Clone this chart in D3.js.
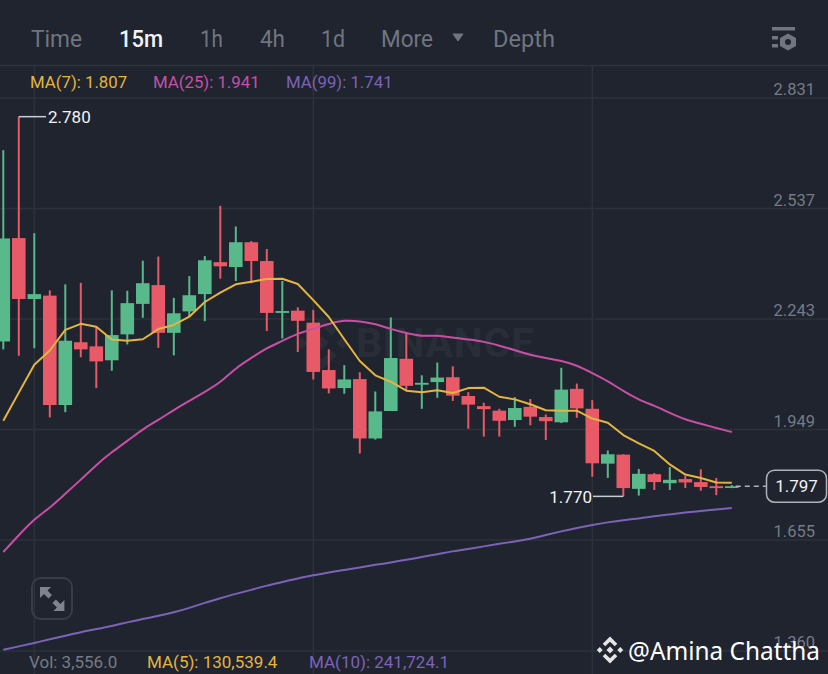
<!DOCTYPE html>
<html>
<head>
<meta charset="utf-8">
<script src="https://cdn.jsdelivr.net/npm/d3@7"></script>
<style>
  html, body { margin: 0; padding: 0; background: #1f242e; }
  svg { display: block; font-family: Roboto, sans-serif; }
</style>
</head>
<body>
<svg id="chart" width="828" height="674"></svg>
<script>
// Candles
const opens = [2.182,2.457,2.295,2.304,2.013,2.180,2.169,2.132,2.201,2.282,2.332,2.205,2.262,2.308,2.393,2.380,2.446,2.396,2.258,2.264,2.232,2.106,2.058,2.082,1.924,1.997,2.136,2.067,2.074,2.087,2.037,2.010,1.998,1.973,2.008,1.981,1.967,2.056,2.003,1.857,1.881,1.790,1.829,1.805,1.816,1.808,1.797,1.795];
const highs = [2.691,2.780,2.470,2.318,2.334,2.338,2.221,2.318,2.317,2.397,2.408,2.298,2.356,2.409,2.543,2.488,2.449,2.428,2.343,2.273,2.266,2.161,2.119,2.100,2.049,2.246,2.204,2.092,2.126,2.116,2.047,2.019,2.003,2.034,2.029,1.988,2.112,2.070,2.026,1.892,1.882,1.843,1.832,1.848,1.825,1.842,1.819,1.800];
const lows = [2.161,2.144,2.164,1.980,1.994,2.140,2.058,2.104,2.174,2.245,2.165,2.145,2.248,2.236,2.349,2.343,2.337,2.210,2.190,2.154,2.081,2.044,2.043,1.884,1.921,1.997,2.051,2.003,2.032,2.024,1.950,1.929,1.929,1.955,1.959,1.920,1.965,1.979,1.822,1.819,1.770,1.772,1.787,1.787,1.792,1.785,1.773,1.792];
const closes = [2.456,2.295,2.308,2.013,2.184,2.161,2.129,2.199,2.284,2.337,2.205,2.257,2.305,2.398,2.382,2.446,2.396,2.258,2.263,2.237,2.101,2.057,2.081,1.924,1.996,2.138,2.064,2.072,2.086,2.038,2.014,2.002,1.971,2.005,1.982,1.970,2.054,2.004,1.858,1.882,1.792,1.830,1.808,1.814,1.807,1.795,1.792,1.797];

// Moving averages
const ma7 = [1.971,2.046,2.120,2.158,2.213,2.229,2.221,2.187,2.184,2.188,2.215,2.226,2.248,2.287,2.312,2.334,2.341,2.348,2.349,2.335,2.292,2.247,2.188,2.130,2.092,2.075,2.051,2.047,2.052,2.045,2.058,2.059,2.035,2.028,2.015,1.999,1.998,1.998,1.977,1.966,1.933,1.911,1.891,1.855,1.828,1.819,1.807,1.806];
const ma25 = [1.622,1.667,1.710,1.739,1.777,1.814,1.854,1.888,1.917,1.949,1.973,2.000,2.024,2.048,2.072,2.112,2.138,2.165,2.183,2.204,2.215,2.229,2.239,2.236,2.229,2.215,2.204,2.195,2.199,2.192,2.187,2.182,2.171,2.159,2.146,2.138,2.131,2.119,2.098,2.077,2.050,2.027,2.011,1.992,1.974,1.963,1.952,1.941];
const ma99 = [1.362,1.371,1.380,1.390,1.399,1.409,1.417,1.425,1.435,1.444,1.452,1.461,1.473,1.487,1.499,1.511,1.521,1.533,1.542,1.552,1.560,1.568,1.574,1.581,1.588,1.594,1.601,1.609,1.616,1.624,1.630,1.637,1.644,1.650,1.657,1.667,1.677,1.686,1.694,1.701,1.707,1.711,1.717,1.722,1.727,1.731,1.735,1.739];

const priceTicks = [2.831, 2.537, 2.243, 1.949, 1.655, 1.360];
const gridCandles = [2, 20, 38];
const tabLabels = ['Time', '15m', '1h', '4h', '1d', 'More', 'Depth'];
const maLabels = ['MA(7): 1.807', 'MA(25): 1.941', 'MA(99): 1.741'];
const volLabels = ['Vol: 3,556.0', 'MA(5): 130,539.4', 'MA(10): 241,724.1'];
const highLabel = 2.780;
const lowLabel = 1.770;
const lastPrice = 1.797;

const tabX = [31, 119, 200, 260, 321, 381, 493];
const tabW = [51, 44, 23, 25, 24, 52, 62];
const maX = [30, 153, 286];
const volX = [29, 147, 309];

const width = 828;
const height = 674;
const yellow = '#e5b53f';
const pink = '#c94fa6';
const purple = '#7c63b8';
const red = '#e85a67';
const green = '#58b98a';
const gridColor = '#2d313b';
const gray = '#767b86';

const xScale = d3.scaleLinear().domain([0, 47]).range([3.3, 731.8]);
const yScale = d3.scaleLinear().domain([1.36, 2.831]).range([650.5, 97.5]);

const svg = d3.select('#chart');
const candles = d3.range(opens.length);

// Exchange logo: two chevrons, a centre diamond and two side diamonds
const logoPath = (cx, cy, r) => {
  const pts = (list, sy) => 'M' + list.map(p => `${cx + p[0] * r} ${cy + p[1] * r * sy}`).join('L') + 'Z';
  const chevron = [[0, -1], [0.54, -0.46], [0.35, -0.27], [0, -0.62], [-0.35, -0.27], [-0.54, -0.46]];
  const diamond = (dx, s) => [[dx, -s], [dx + s, 0], [dx, s], [dx - s, 0]];
  return pts(chevron, 1) + pts(chevron, -1) + pts(diamond(0, 0.26), 1) + pts(diamond(-0.76, 0.22), 1) + pts(diamond(0.76, 0.22), 1);
};

svg.append('rect').attr('width', width).attr('height', height).attr('fill', '#1f242e');

// Top rule under the tabs
svg.append('line')
  .attr('x1', 0).attr('x2', width).attr('y1', 65.5).attr('y2', 65.5)
  .attr('stroke', gridColor).attr('stroke-width', 1.5);

// Vertical grid
svg.selectAll('.vgrid')
  .data(gridCandles)
  .enter()
  .append('line')
  .attr('class', 'vgrid')
  .attr('x1', d => xScale(d)).attr('x2', d => xScale(d))
  .attr('y1', 66).attr('y2', height)
  .attr('stroke', gridColor).attr('stroke-width', 1.5);

// Price axis, the tick lines double as the horizontal grid
const yAxis = d3.axisRight(yScale)
  .tickValues(priceTicks)
  .tickFormat(d3.format('.3f'))
  .tickSize(width);

const yAxisG = svg.append('g').call(yAxis);
yAxisG.select('.domain').remove();
yAxisG.selectAll('line').attr('stroke', gridColor).attr('stroke-width', 1.5);
yAxisG.selectAll('text')
  .attr('x', 815)
  .attr('dy', -3)
  .attr('text-anchor', 'end')
  .attr('fill', gray)
  .attr('font-family', 'Roboto, sans-serif')
  .attr('font-size', 16.5);

// Faint exchange mark behind the candles
const mark = svg.append('g').attr('fill', '#292d38');
mark.append('text')
  .attr('x', 356).attr('y', 357)
  .attr('font-size', 41).attr('font-weight', 700)
  .attr('textLength', 178)
  .text('BINANCE');
mark.append('path').attr('d', logoPath(322, 343, 27));

const candleColor = i => (closes[i] >= opens[i] ? green : red);

// Wicks
svg.selectAll('.wick')
  .data(candles)
  .enter()
  .append('line')
  .attr('class', 'wick')
  .attr('x1', i => xScale(i)).attr('x2', i => xScale(i))
  .attr('y1', i => yScale(highs[i])).attr('y2', i => yScale(lows[i]))
  .attr('stroke', candleColor).attr('stroke-width', 2);

// Bodies
svg.selectAll('.body')
  .data(candles)
  .enter()
  .append('rect')
  .attr('class', 'body')
  .attr('x', i => xScale(i) - 6.8)
  .attr('width', 13.6)
  .attr('y', i => yScale(Math.max(opens[i], closes[i])))
  .attr('height', i => Math.max(1.8, Math.abs(yScale(opens[i]) - yScale(closes[i]))))
  .attr('fill', candleColor);

// MA lines
const maLine = d3.line()
  .x((d, i) => xScale(i))
  .y(d => yScale(d));
const maSmooth = d3.line()
  .x((d, i) => xScale(i))
  .y(d => yScale(d))
  .curve(d3.curveBasis);

[[ma99, purple, maSmooth], [ma25, pink, maSmooth], [ma7, yellow, maLine]].forEach(([values, color, gen]) => {
  svg.append('path')
    .datum(values)
    .attr('d', gen)
    .attr('fill', 'none')
    .attr('stroke', color)
    .attr('stroke-width', 2)
    .attr('stroke-linejoin', 'round');
});

// Tabs
svg.selectAll('.tab')
  .data(tabLabels)
  .enter()
  .append('text')
  .attr('class', 'tab')
  .attr('x', (d, i) => tabX[i])
  .attr('y', 47)
  .attr('font-size', 23)
  .attr('font-weight', d => (d === '15m' ? 500 : 400))
  .attr('fill', d => (d === '15m' ? '#f2f3f5' : '#70757f'))
  .attr('textLength', (d, i) => tabW[i])
  .attr('lengthAdjust', 'spacingAndGlyphs')
  .text(d => d);

svg.append('path')
  .attr('d', 'M453 34H463L458 41Z')
  .attr('fill', '#70757f').attr('stroke', '#70757f').attr('stroke-linejoin', 'round');

// Settings icon, top right
const icon = svg.append('g').attr('fill', '#70757f');
icon.append('rect').attr('x', 772).attr('y', 27).attr('width', 23).attr('height', 3.5);
icon.append('rect').attr('x', 772).attr('y', 36).attr('width', 6).attr('height', 3.5);
icon.append('rect').attr('x', 772).attr('y', 44).attr('width', 6).attr('height', 3.5);
icon.append('path')
  .attr('fill-rule', 'evenodd')
  .attr('d', 'M788 33.5L796 38V46L788 50.5L780 46V38ZM788 39A3 3 0 1 0 788 45A3 3 0 1 0 788 39Z');

// MA legend
const legendColors = [yellow, pink, purple];
svg.selectAll('.ma-label')
  .data(maLabels)
  .enter()
  .append('text')
  .attr('class', 'ma-label')
  .attr('x', (d, i) => maX[i])
  .attr('y', 88)
  .attr('font-size', 16.8)
  .attr('fill', (d, i) => legendColors[i])
  .text(d => d);

// High / low callouts
svg.append('path')
  .attr('d', `M${xScale(1)} ${yScale(highLabel)}H46`)
  .attr('fill', 'none').attr('stroke', '#c9ccd2').attr('stroke-width', 1.5);
svg.append('text')
  .attr('x', 48).attr('y', yScale(highLabel) + 6.5)
  .attr('font-size', 17).attr('fill', '#f2f3f5')
  .text(d3.format('.3f')(highLabel));

svg.append('path')
  .attr('d', `M${xScale(40)} ${yScale(lowLabel)}H593`)
  .attr('fill', 'none').attr('stroke', '#c9ccd2').attr('stroke-width', 1.5);
svg.append('text')
  .attr('x', 592).attr('y', yScale(lowLabel) + 6.5)
  .attr('text-anchor', 'end')
  .attr('font-size', 17).attr('fill', '#f2f3f5')
  .text(d3.format('.3f')(lowLabel));

// Current price tag
svg.append('line')
  .attr('x1', xScale(47) + 4).attr('x2', 766)
  .attr('y1', yScale(lastPrice)).attr('y2', yScale(lastPrice))
  .attr('stroke', '#aeb1b8').attr('stroke-width', 1.5)
  .attr('stroke-dasharray', '5 4');
svg.append('rect')
  .attr('x', 766.5).attr('y', yScale(lastPrice) - 16)
  .attr('width', 60).attr('height', 32).attr('rx', 8)
  .attr('fill', '#1f242e').attr('stroke', '#aeb1b8').attr('stroke-width', 1.5);
svg.append('text')
  .attr('x', 796.5).attr('y', yScale(lastPrice) + 6)
  .attr('text-anchor', 'middle')
  .attr('font-size', 17).attr('fill', '#f2f3f5')
  .text(d3.format('.3f')(lastPrice));

// Expand button
const expand = svg.append('g').attr('fill', '#7f838d');
expand.append('rect')
  .attr('x', 32).attr('y', 578).attr('width', 40).attr('height', 41).attr('rx', 9)
  .attr('fill', 'none').attr('stroke', '#383c47').attr('stroke-width', 2);
expand.append('path').attr('d', 'M40 587L51 587L47.5 590.5L52 595L48.5 598.5L44 594L40 598Z');
expand.append('path').attr('d', 'M64.4 611L53.4 611L56.9 607.5L52.4 603L55.9 599.5L60.4 604L64.4 600Z');

// Volume legend
const volColors = [gray, yellow, purple];
svg.selectAll('.vol-label')
  .data(volLabels)
  .enter()
  .append('text')
  .attr('class', 'vol-label')
  .attr('x', (d, i) => volX[i])
  .attr('y', 668)
  .attr('font-size', 17)
  .attr('fill', (d, i) => volColors[i])
  .text(d => d);

// Watermark over the chart
svg.append('path').attr('d', logoPath(610, 650, 13.5)).attr('fill', '#e4e4e4');
svg.append('text')
  .attr('x', 628).attr('y', 660)
  .attr('font-family', '"Noto Sans", sans-serif')
  .attr('font-size', 25)
  .attr('fill', '#ffffff')
  .attr('textLength', 192)
  .attr('lengthAdjust', 'spacingAndGlyphs')
  .text('@Amina Chattha');
</script>
</body>
</html>
